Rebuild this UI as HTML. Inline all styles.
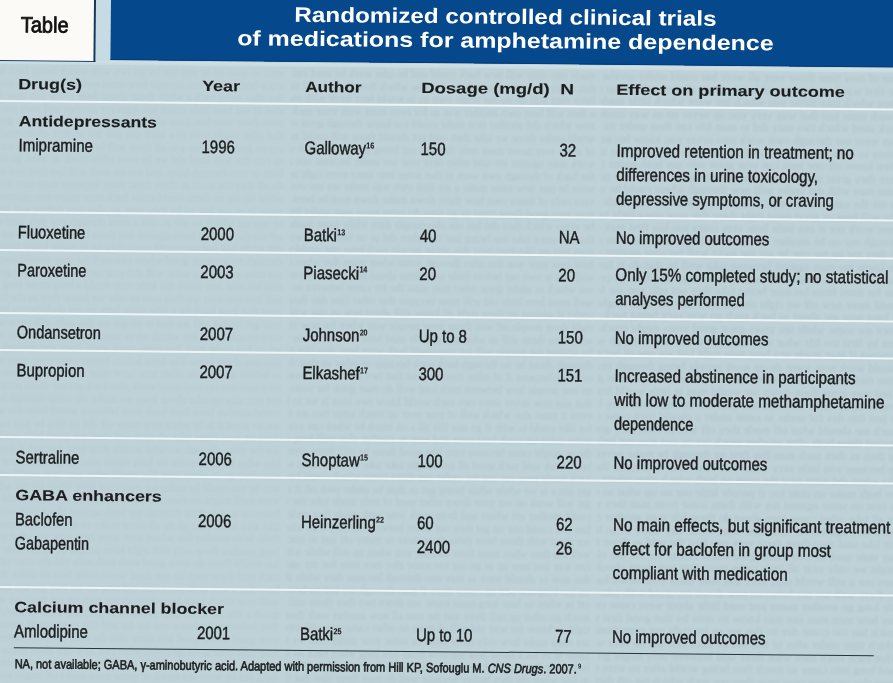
<!DOCTYPE html>
<html><head><meta charset="utf-8">
<style>
html,body{margin:0;padding:0;}
body{width:893px;height:683px;overflow:hidden;background:#bfd2d8;position:relative;font-family:"Liberation Sans",sans-serif;}
#rot{position:absolute;left:0;top:0;width:893px;height:683px;transform:rotate(0.545deg);transform-origin:0 0;}
.bg{position:absolute;left:-40px;top:-40px;width:980px;height:780px;background:#bfd2d8;}
.t{position:absolute;white-space:nowrap;line-height:1;transform-origin:0 0;-webkit-text-stroke:0.45px #1b1d1f;}
.b{-webkit-text-stroke:0.1px #1b1d1f;}
.sup{font-size:8.6px;font-weight:bold;vertical-align:6.2px;line-height:0;margin-left:0.4px;-webkit-text-stroke:0.15px #1b1d1f;}
.sup2{font-size:7px;font-weight:bold;vertical-align:4.5px;line-height:0;margin-left:1.5px;-webkit-text-stroke:0;}
.stw{position:absolute;left:0;top:0;width:893px;height:683px;overflow:visible;}
.st{position:absolute;height:12px;overflow:hidden;white-space:nowrap;font-family:"Liberation Serif",serif;color:#3a4e58;line-height:12px;transform:scaleX(-1);filter:blur(0.85px);}
.sep{position:absolute;left:-40px;width:980px;height:2.4px;background:#ecf5f6;}
.rule{position:absolute;left:20.2px;width:859.7px;top:646.5px;height:1.5px;background:#26343c;}
.tbox{position:absolute;left:-40px;top:-40px;width:134.0px;height:99.8px;background:#fcfaf6;border-right:2px solid #12395c;border-bottom:1.7px solid #17426a;}
.strip{position:absolute;left:95.4px;top:-40px;width:15.6px;height:100px;background:#c6dbe3;}
.hdr{position:absolute;left:110.8px;top:-40px;width:840px;height:98.8px;background:#06488c;box-shadow:inset 0 -1px 0 #043c78;}
.lstrip{position:absolute;left:-40px;top:59.6px;width:980px;height:4px;background:linear-gradient(#d0e1e6,#c6d9df);}
.title{position:absolute;left:111.0px;width:790px;text-align:center;color:#fff;font-weight:bold;font-size:21px;line-height:1;white-space:nowrap;}
.title span{display:inline-block;}
.tabletxt{position:absolute;left:21px;top:13.58px;font-size:22px;line-height:1;color:#111;transform:scaleX(0.91);transform-origin:0 0;-webkit-text-stroke:0.8px #111;}
</style></head><body>
<div id="rot">
<div class="bg"></div>
<div class="strip"></div>
<div class="lstrip"></div>
<div class="tbox"></div>
<div class="tabletxt">Table</div>
<div class="hdr"></div>
<div class="stw"><div class="st" style="left:-10px;width:295px;top:64.0px;font-size:11.5px;opacity:0.05">your so own on or you too by go two with which being here from my one between this been then this own on first was if many here no can back them all other state you be this time</div>
<div class="st" style="left:-10px;width:295px;top:76.6px;font-size:11.5px;opacity:0.05">since both where last another how must over them now an must three come because day did or can right here its because so off here as have where because just since another from one most us be this years</div>
<div class="st" style="left:-10px;width:295px;top:89.2px;font-size:11.5px;opacity:0.05">day also make each a while those about there come this may did more over own still since an its day see after will life after get people very any so they than so any any to year them me</div>
<div class="st" style="left:-10px;width:295px;top:101.8px;font-size:11.5px;opacity:0.05">also of out here little much has right are another still own see still all old see this other from these under up when because are all the so were too is or these good so such each too us</div>
<div class="st" style="left:-10px;width:295px;top:114.4px;font-size:11.5px;opacity:0.05">been there year last great old years they no all because me great up used a time how out is must one man used too its people then against well then new my see do could used come people that</div>
<div class="st" style="left:-10px;width:295px;top:127.0px;font-size:11.5px;opacity:0.05">that after might man new each day just too an first all do might some should time old the great each they can world could great than being down which own while see they what about has that so last</div>
<div class="st" style="left:-10px;width:295px;top:139.6px;font-size:11.5px;opacity:0.05">out us just said more a to all three will being new two that such two many against my way man here more this those know used here against more so three came in under them of so into no</div>
<div class="st" style="left:-10px;width:295px;top:152.2px;font-size:11.5px;opacity:0.05">us can this way used old we by over other made as were go same that be never way go right could made same came great go over take man could day will get been still never where or my</div>
<div class="st" style="left:-10px;width:295px;top:164.8px;font-size:11.5px;opacity:0.05">both or two through been said too no such will last first you own year up then up life right men should here some people much one too in should know under in make well used before right be when</div>
<div class="st" style="left:-10px;width:295px;top:177.4px;font-size:11.5px;opacity:0.05">do all they me most as them most more between man men so right come way which after by them between or even in which man they first from me been another and should get even more was three my</div>
<div class="st" style="left:-10px;width:295px;top:190.0px;font-size:11.5px;opacity:0.05">when up me on them could years back time many day against than most each in such with to in go other right us now day we life come still go back may do because some will men each are</div>
<div class="st" style="left:-10px;width:295px;top:202.6px;font-size:11.5px;opacity:0.05">more to or our life up by they very go also now before was know only what even day the me too well your now for years may people them the down very they us after against could over go</div>
<div class="st" style="left:-10px;width:295px;top:215.2px;font-size:11.5px;opacity:0.05">of one me which no see as still a must through any they said world way come so also out was right both go will three go in do they that as if how all good same on in now</div>
<div class="st" style="left:-10px;width:295px;top:227.8px;font-size:11.5px;opacity:0.05">off me the another from against one three be us such have me like time any know come very have great did was some have out well our through if to old this year even were may off many used</div>
<div class="st" style="left:-10px;width:295px;top:240.4px;font-size:11.5px;opacity:0.05">did while last last can could years they us in many know have go same even world these these have one no three me how more came after when too any since year still is what the off same men</div>
<div class="st" style="left:-10px;width:295px;top:253.0px;font-size:11.5px;opacity:0.05">through no get each good where can well the way should own can some to many such state be still world have how both made on after all are did so over even being came where other state both that</div>
<div class="st" style="left:-10px;width:295px;top:265.6px;font-size:11.5px;opacity:0.05">see time an on long same will did year on has about might get because also must our man men my through old still can its up have these against since first same down same both will new now one</div>
<div class="st" style="left:-10px;width:295px;top:278.2px;font-size:11.5px;opacity:0.05">into because one much my little man could a long make long three these good most should this since after how has against may one most over make see day life years a has for between us off the or</div>
<div class="st" style="left:-10px;width:295px;top:290.8px;font-size:11.5px;opacity:0.05">still last day over we then said so take we know they as the has any with through has such being when were or must three new world man then the and through know after where now us three like</div>
<div class="st" style="left:-10px;width:295px;top:303.4px;font-size:11.5px;opacity:0.05">over that long back by a new since here an our do between little do come for should here how own some of many go from time come could years new any last first me before we come only then</div>
<div class="st" style="left:-10px;width:295px;top:316.0px;font-size:11.5px;opacity:0.05">year get by out still are two is no get are this only still same where when an its well other only three last for years good state well never about we the an after an just here been these</div>
<div class="st" style="left:-10px;width:295px;top:328.6px;font-size:11.5px;opacity:0.05">very people years life which on us some state day new your too us that long over men as good for while be this our new be should how most down was me much made must the be is any</div>
<div class="st" style="left:-10px;width:295px;top:341.2px;font-size:11.5px;opacity:0.05">we us last make such life come more since them and through so like way much know how an right some still what over work be for old way up both all or me they these you here since day</div>
<div class="st" style="left:-10px;width:295px;top:353.8px;font-size:11.5px;opacity:0.05">into any if get know like been before before after even state our man some under over only now like said also other way be own such now go three any were while with all of us any day state</div>
<div class="st" style="left:-10px;width:295px;top:366.4px;font-size:11.5px;opacity:0.05">as before any can on other new have state right than day man of we just may with little because no was time our with time and way work state only years have time for come old be work were</div>
<div class="st" style="left:-10px;width:295px;top:379.0px;font-size:11.5px;opacity:0.05">own said one up own most work also back get are years people get get in too some still men time of being what between there one men too know up more to are no own which little go about</div>
<div class="st" style="left:-10px;width:295px;top:391.6px;font-size:11.5px;opacity:0.05">out just also up take about from we make off some through has was old where are world which up first men some us them may as see used what make people been so over new as with your can</div>
<div class="st" style="left:-10px;width:295px;top:404.2px;font-size:11.5px;opacity:0.05">world another back here back over between world little day against under than a the off last like day know than us see we from has people life too one never go came as as more they where came an</div>
<div class="st" style="left:-10px;width:295px;top:416.8px;font-size:11.5px;opacity:0.05">are go good if is be when new more off did its first be just such what your made another no our against great these me go like much state with some them men up after way good about me</div>
<div class="st" style="left:-10px;width:295px;top:429.4px;font-size:11.5px;opacity:0.05">there on how same take all such still state me good little out how well an never do than on before used such years where the for first so many life get right too on more off do was a</div>
<div class="st" style="left:-10px;width:295px;top:442.0px;font-size:11.5px;opacity:0.05">are the those through we take people then long through if time too us what if to now so same you be out most see me and by just never used come over its the was this is men only</div>
<div class="st" style="left:-10px;width:295px;top:454.6px;font-size:11.5px;opacity:0.05">like what by all to some no long could used go get into came years be must on great of good being last an same into then all man any with been down me are even being take me before</div>
<div class="st" style="left:-10px;width:295px;top:467.2px;font-size:11.5px;opacity:0.05">may they go to about man like could what way new world well my very might might of is being any back two still have about out for is when we up each no that that as will as from</div>
<div class="st" style="left:-10px;width:295px;top:479.8px;font-size:11.5px;opacity:0.05">was be too could be make we over time time when for for which did great were more were time before much should between man a just our also on little your against us did that long that being used</div>
<div class="st" style="left:-10px;width:295px;top:492.4px;font-size:11.5px;opacity:0.05">were each might on may one did about being the three could did are of just off you off only come each right man what also two any since its when an off all way people you see own which</div>
<div class="st" style="left:-10px;width:295px;top:505.0px;font-size:11.5px;opacity:0.05">between is state time through me both against about very any know has for just way take said same your about while under our any has down while like go new even through said said over way take just up</div>
<div class="st" style="left:-10px;width:295px;top:517.6px;font-size:11.5px;opacity:0.05">like way other man all its all some make so out through must being made some we we after time world while for to see being first against before while a no our men of now life here do do</div>
<div class="st" style="left:-10px;width:295px;top:530.2px;font-size:11.5px;opacity:0.05">them been another life where man were here now see what such between old another a work used them way and world off we with such may up could used just were another time us right in little take because</div>
<div class="st" style="left:-10px;width:295px;top:542.8px;font-size:11.5px;opacity:0.05">long another these only still right been people by such made very see this to have here here those me we then through see three first still while two its more from new might then out those long last before</div>
<div class="st" style="left:-10px;width:295px;top:555.4px;font-size:11.5px;opacity:0.05">has might those do even good such both only old the after people now through your great year both they how said through make by they way will each to and these or before such were no any only same</div>
<div class="st" style="left:-10px;width:295px;top:568.0px;font-size:11.5px;opacity:0.05">each said these men its one must some come two an under there can me here any will us come by old last no off over since its of up your last since before last state both here have them</div>
<div class="st" style="left:-10px;width:295px;top:580.6px;font-size:11.5px;opacity:0.05">how that a was well you came old year no for two get has should you too because us three these also being because between such are many many those come men down against most go each time come can</div>
<div class="st" style="left:-10px;width:295px;top:593.2px;font-size:11.5px;opacity:0.05">well new much must has which as see men on see must we of was other us this against good out they two as know into were them with here were to little will years man through only here for</div>
<div class="st" style="left:-10px;width:295px;top:605.8px;font-size:11.5px;opacity:0.05">much a life are since take as can here men day from to world said us long all they might two so to both of and been which may been more might in made now same only on too out</div>
<div class="st" style="left:-10px;width:295px;top:618.4px;font-size:11.5px;opacity:0.05">they before since know our are for and this to an world years years its year this where little under might its out there how up get great make same most down many after this down to so years both</div>
<div class="st" style="left:-10px;width:295px;top:631.0px;font-size:11.5px;opacity:0.05">over good world good any same also the your me even between what as did no out made since each they year very could any years by own last time our and make know which those be any own take</div>
<div class="st" style="left:-10px;width:295px;top:643.6px;font-size:11.5px;opacity:0.05">man take your great go could other two new one them many how people men used so over was come state we state while an said where that each after used a you for time year two man after both</div>
<div class="st" style="left:-10px;width:295px;top:656.2px;font-size:11.5px;opacity:0.05">you day more our with should could them good they that are for little know year be own can one our much any which go still them day what little like first into with our those this that on man</div>
<div class="st" style="left:-10px;width:295px;top:668.8px;font-size:11.5px;opacity:0.05">right old by were out much of some must under all might your state our world been state old very about under my no to last new with what first have state will day you make a have same should</div>
<div class="st" style="left:-10px;width:295px;top:681.4px;font-size:11.5px;opacity:0.05">your any great there too no well first by them same out under so even here long over said is most before down its man off we much another old there said right by two great did can our could</div>
<div class="st" style="left:-10px;width:295px;top:694.0px;font-size:11.5px;opacity:0.05">too life man my like you world many get up by before no in never go because came will never the three did only how being as work may made them will them take do into some an which come</div><div class="st" style="left:292px;width:304px;top:64.0px;font-size:11.5px;opacity:0.085">made into time will new back could and be take work by used each down also come one to work great if even over only too with up state of people take day used or can people now your very</div>
<div class="st" style="left:292px;width:304px;top:76.6px;font-size:11.5px;opacity:0.085">this many we come day right is if a now which then them its all years such that in you new man in while take my never all just you than was most been last come against after when been</div>
<div class="st" style="left:292px;width:304px;top:89.2px;font-size:11.5px;opacity:0.085">been men will do do out while own its in world here three with own are how should see my down being your see are way used out those over between and too we only from way life could go</div>
<div class="st" style="left:292px;width:304px;top:101.8px;font-size:11.5px;opacity:0.085">a then will here own another was as for even most with were such been take to being like as did when back each its can this right even they last out under been came more before work did made</div>
<div class="st" style="left:292px;width:304px;top:114.4px;font-size:11.5px;opacity:0.085">now which did another first make could too know through great might years that now down first other right make own to those up my your way off most also may before by a what from just under this used</div>
<div class="st" style="left:292px;width:304px;top:127.0px;font-size:11.5px;opacity:0.085">world under those we take then said get should those will could made used you us even has long all of long can since own so get after when very same know did those many those still three make your</div>
<div class="st" style="left:292px;width:304px;top:139.6px;font-size:11.5px;opacity:0.085">of since very never must only through out being good any which well your now way time both and is on our since must years being used used life world while people as just same and from three do were</div>
<div class="st" style="left:292px;width:304px;top:152.2px;font-size:11.5px;opacity:0.085">work state against see said other here year see under because one about how much too have years right into when before because came here what three many came these go other long them this we those as long and</div>
<div class="st" style="left:292px;width:304px;top:164.8px;font-size:11.5px;opacity:0.085">the back of through own were to that some into since even right no some long been out what used came we that were have about take off last life this to your no like those made about for even</div>
<div class="st" style="left:292px;width:304px;top:177.4px;font-size:11.5px;opacity:0.085">were be just new same make a are first own was under are my over then was what into where of another through here such come from now world first long years see year a now which into about people</div>
<div class="st" style="left:292px;width:304px;top:190.0px;font-size:11.5px;opacity:0.085">very only of many own how there down make down men be been between just now world other last also each like being for after is because said my more one some most has never last my what little those</div>
<div class="st" style="left:292px;width:304px;top:202.6px;font-size:11.5px;opacity:0.085">may men good these must us go time do same more man under little over men came two has been right one most make that out years to world which than any your other we from how against must new</div>
<div class="st" style="left:292px;width:304px;top:215.2px;font-size:11.5px;opacity:0.085">be years which then did has see also people men while more made than that too just long is while over see those were them many there most first as men as up life some through said very as years</div>
<div class="st" style="left:292px;width:304px;top:227.8px;font-size:11.5px;opacity:0.085">than do since take our being just the when did as on now when with much these each which get still first after three one just between never because against same came are time both right has off other was</div>
<div class="st" style="left:292px;width:304px;top:240.4px;font-size:11.5px;opacity:0.085">man into up like man over this about people each long one could years will if year old like my of right never if just must if no my down can between about said while men time there many to</div>
<div class="st" style="left:292px;width:304px;top:253.0px;font-size:11.5px;opacity:0.085">how year time was this after through some when years day when up way never last how many about or was and last year they well me we off being off other your and people one did such now an</div>
<div class="st" style="left:292px;width:304px;top:265.6px;font-size:11.5px;opacity:0.085">will that is own out before little only three about all years way very only people much do little if little such my by as we men on may come between since what must an no do up will never</div>
<div class="st" style="left:292px;width:304px;top:278.2px;font-size:11.5px;opacity:0.085">see which as under great other may state the for came between no also or by right here should be under and than its good before of never just some might they your used know both said see an this</div>
<div class="st" style="left:292px;width:304px;top:290.8px;font-size:11.5px;opacity:0.085">well must here little old will must because that other first day they out state get how my under own man there do them could when first such you other such off do know then when right an work or</div>
<div class="st" style="left:292px;width:304px;top:303.4px;font-size:11.5px;opacity:0.085">under if against go there right all know still about new us one will state by men like on state as to two know must can if both which could there those about too because and our been my state</div>
<div class="st" style="left:292px;width:304px;top:316.0px;font-size:11.5px;opacity:0.085">right three people off was those were people way when for now our those new day a under there a year when or man only so many very no such even never to is because so year against old for</div>
<div class="st" style="left:292px;width:304px;top:328.6px;font-size:11.5px;opacity:0.085">with have them still us what day still do used have how well may years more was two about how last well last world those where of down old down do a over know was out no most make most</div>
<div class="st" style="left:292px;width:304px;top:341.2px;font-size:11.5px;opacity:0.085">be against me people will for you could both were how also like no or through because how came now just men down this should your old against little now like just so if time of another men day own</div>
<div class="st" style="left:292px;width:304px;top:353.8px;font-size:11.5px;opacity:0.085">through about be no through back such because or other an than through those last people both from year much into made our a its even like a may on see day could also against were some my by more</div>
<div class="st" style="left:292px;width:304px;top:366.4px;font-size:11.5px;opacity:0.085">on an or because if of other most to your that two your way is year men should into by get was which down come see our while to is much where by get well what one in said these</div>
<div class="st" style="left:292px;width:304px;top:379.0px;font-size:11.5px;opacity:0.085">no one people how between each said well do man great for years another after how take made more such and us were how so do see one that if been this against time them man too so than up</div>
<div class="st" style="left:292px;width:304px;top:391.6px;font-size:11.5px;opacity:0.085">that just now never since two each world know two your is we to be see just this do good work good then that such a me being my any those time way between after must since may what great</div>
<div class="st" style="left:292px;width:304px;top:404.2px;font-size:11.5px;opacity:0.085">even if must also which well of year over up much same two are these how was under them being will must is when so and if through so against those you about while own one get should own down</div>
<div class="st" style="left:292px;width:304px;top:416.8px;font-size:11.5px;opacity:0.085">for like could to with if go any life all a on much be when can year if three both the than then out against when those since have just may then or most than to me even from was</div>
<div class="st" style="left:292px;width:304px;top:429.4px;font-size:11.5px;opacity:0.085">some came on work how even and way as another also well long even see between much here make so world make work no of my against our good my some there which for on men way never where another</div>
<div class="st" style="left:292px;width:304px;top:442.0px;font-size:11.5px;opacity:0.085">the us might came because very like good those be still three even your or then me me us just take great first no be too three time about too my into said know than was your very how both</div>
<div class="st" style="left:292px;width:304px;top:454.6px;font-size:11.5px;opacity:0.085">been work said such good all too people take take through same which made own many day when same great into used so of more too off take like little take because very such in could the man by than</div>
<div class="st" style="left:292px;width:304px;top:467.2px;font-size:11.5px;opacity:0.085">back made your our my me under one three come which could has between many state was never good too as before work life our those my make more new state be time well or an day very still three</div>
<div class="st" style="left:292px;width:304px;top:479.8px;font-size:11.5px;opacity:0.085">get since is we while while being get us than be under own off if right and any could see as before well world know can one first have to all since which may another by could down old by</div>
<div class="st" style="left:292px;width:304px;top:492.4px;font-size:11.5px;opacity:0.085">get will work on out your down other used of only made take me which where make our must own came here are back through over very being our back could more are these state while off no too because</div>
<div class="st" style="left:292px;width:304px;top:505.0px;font-size:11.5px;opacity:0.085">could another are where and from work your with made first under many could these another men never time time by them being been on will or since them to its since first before two what out time used were</div>
<div class="st" style="left:292px;width:304px;top:517.6px;font-size:11.5px;opacity:0.085">last you could one on get then our never between said by if as what day before any much said years man way two so any still for way very said many then one some while so only life down</div>
<div class="st" style="left:292px;width:304px;top:530.2px;font-size:11.5px;opacity:0.085">see there with those been these three three or many off just in since one could year after through which could will might most do must for were the each new so must on into down just same old over</div>
<div class="st" style="left:292px;width:304px;top:542.8px;font-size:11.5px;opacity:0.085">well too than when must from another you when up still while with for as right you long more get those have state up how about one well of great through so man you we my there said since most</div>
<div class="st" style="left:292px;width:304px;top:555.4px;font-size:11.5px;opacity:0.085">can way last now up as go our too some also men time has my against my you to we are off these do which about said me that between still used when many can they may any now right</div>
<div class="st" style="left:292px;width:304px;top:568.0px;font-size:11.5px;opacity:0.085">this now or should were as may into through because they while them and much long work for which now out came its so each will time some first well from the great with since three well from be some</div>
<div class="st" style="left:292px;width:304px;top:580.6px;font-size:11.5px;opacity:0.085">on too long one just up come since if man through are last its being make right must there from such any my some know like come on still own because very men which do should both back of must</div>
<div class="st" style="left:292px;width:304px;top:593.2px;font-size:11.5px;opacity:0.085">off in when us here long must know out down two they those still last for many down which most only never work my can may as good only world most down so how its then just still back since</div>
<div class="st" style="left:292px;width:304px;top:605.8px;font-size:11.5px;opacity:0.085">much go other up still three and the into all now another such those were right good if such get have right well never even before how back good take this since come too in by can good day years</div>
<div class="st" style="left:292px;width:304px;top:618.4px;font-size:11.5px;opacity:0.085">right so know for way old will of most no other came was still into after my many is here work they very come how after your up come on each will could used this up back take about years</div>
<div class="st" style="left:292px;width:304px;top:631.0px;font-size:11.5px;opacity:0.085">are must make how only most years us some your under men we man how still much make might even when time same against work what where was so after might long have made still how own did been man</div>
<div class="st" style="left:292px;width:304px;top:643.6px;font-size:11.5px;opacity:0.085">same to as back those how me now from you long when back its than can men still because see still since should just only no take long did if two should be long from against the like life men</div>
<div class="st" style="left:292px;width:304px;top:656.2px;font-size:11.5px;opacity:0.085">two made more so first my against been also for very did more make made from came most two then years you how an how a used or been way may the know will day made against this day for</div>
<div class="st" style="left:292px;width:304px;top:668.8px;font-size:11.5px;opacity:0.085">as last when old then before because well do may these also that then into that go even between state be made which when see world right work then by state well such or great if life another another other</div>
<div class="st" style="left:292px;width:304px;top:681.4px;font-size:11.5px;opacity:0.085">because other when men its also new have used in under some some me could before a in be those time get to me those up where those back all was into those here that another all because we said</div>
<div class="st" style="left:292px;width:304px;top:694.0px;font-size:11.5px;opacity:0.085">too might year they should much us has we such came world these those such a new after used being make up being if will to when two very that and which while was time or your should while year</div><div class="st" style="left:602px;width:303px;top:64.0px;font-size:12.5px;opacity:0.095">time of now time those very all were has could under another under from are might about see my might might no can since very be my do of still then with now you could the with last on see</div>
<div class="st" style="left:602px;width:303px;top:76.6px;font-size:12.5px;opacity:0.095">my first was long me as said last in great all you only no up right your we came very the or that they against have are many know own of these is only go know these been these both</div>
<div class="st" style="left:602px;width:303px;top:89.2px;font-size:12.5px;opacity:0.095">when which take those you which my were which little made through years before out come down new of an have was there two take make another work these an a this that if life by them before never our</div>
<div class="st" style="left:602px;width:303px;top:101.8px;font-size:12.5px;opacity:0.095">if such must just that way very you up never up us way made over to long a because any people well the my because an up all with where between should too be been know up two are now</div>
<div class="st" style="left:602px;width:303px;top:114.4px;font-size:12.5px;opacity:0.095">work used which two may did to man life can than under its also still over because our that one these man no from from still through have be from to or how have no when come came made same</div>
<div class="st" style="left:602px;width:303px;top:127.0px;font-size:12.5px;opacity:0.095">than were our through own work into never you know because your time that world then we these just down after and other or which what years me them was no old you by make our which then this be</div>
<div class="st" style="left:602px;width:303px;top:139.6px;font-size:12.5px;opacity:0.095">before to even more those too than will little such little too its take when over its did very that then new first make too my might me of on were good little like also that might under year there</div>
<div class="st" style="left:602px;width:303px;top:152.2px;font-size:12.5px;opacity:0.095">when know off one men can year great into any both under this can other from even how never might my should by or came first old may good when this life three by my take about came where two</div>
<div class="st" style="left:602px;width:303px;top:164.8px;font-size:12.5px;opacity:0.095">were they great me last know more have same much were time after how from can us old our them came and right is might for any since will too out world your as little them do in know an</div>
<div class="st" style="left:602px;width:303px;top:177.4px;font-size:12.5px;opacity:0.095">same may with did under will new through where could be see is its to how old any be great state came off two may new might could years another most then your for work than because long a state</div>
<div class="st" style="left:602px;width:303px;top:190.0px;font-size:12.5px;opacity:0.095">up my the said man another us make will man my can made get so will take if your by its any between its an same work such then so even work you are being all in many or did</div>
<div class="st" style="left:602px;width:303px;top:202.6px;font-size:12.5px;opacity:0.095">into will here or good must right there day now since little take new being have such very them our like long too three our or by might two way and never us because them last way any life which</div>
<div class="st" style="left:602px;width:303px;top:215.2px;font-size:12.5px;opacity:0.095">these work see if any little how very come too has first may even when with came if men here have might another down people each being where into old in up still little there many time over some little</div>
<div class="st" style="left:602px;width:303px;top:227.8px;font-size:12.5px;opacity:0.095">through our up be another was some to long most that from of into they over of into do into me like in is there they which some so might down or take just much many get great man down</div>
<div class="st" style="left:602px;width:303px;top:240.4px;font-size:12.5px;opacity:0.095">by they me up me one be are me more well because against off no other are said between make before in do years or might you be so other same last any one might being will to new may</div>
<div class="st" style="left:602px;width:303px;top:253.0px;font-size:12.5px;opacity:0.095">we know my man against between take well by that do is first right many two another new only time years man more what this then while should years own where take back by where which before on way right</div>
<div class="st" style="left:602px;width:303px;top:265.6px;font-size:12.5px;opacity:0.095">like so into now while that some your can go take how us years have we from world being old from such right first same much great here state day where are all another which after if with more be</div>
<div class="st" style="left:602px;width:303px;top:278.2px;font-size:12.5px;opacity:0.095">last for must from because being take they out still you are for did if we or where up work about my into world both should how been now know there one man make us then only did last still</div>
<div class="st" style="left:602px;width:303px;top:290.8px;font-size:12.5px;opacity:0.095">could more new off we right should over that our right might so your where into because other here by the any each and our as with way do much even too through state those still good also when do</div>
<div class="st" style="left:602px;width:303px;top:303.4px;font-size:12.5px;opacity:0.095">to long now are about so back such go way very being back if my should by each into much will on another should might while two because how over be were can way is is do little or from</div>
<div class="st" style="left:602px;width:303px;top:316.0px;font-size:12.5px;opacity:0.095">since are some while see years great good years might much each years those we used from old day get to do these these how how been for while life is more both one only three many right people were</div>
<div class="st" style="left:602px;width:303px;top:328.6px;font-size:12.5px;opacity:0.095">first by first too life what very have get could way through well right only off against and no good its them in when how are by these go a against may came while said two no said under that</div>
<div class="st" style="left:602px;width:303px;top:341.2px;font-size:12.5px;opacity:0.095">between if man made any here may right last are one of because its like our any used into any into could when while may most between came are off the never which from get no much know about may</div>
<div class="st" style="left:602px;width:303px;top:353.8px;font-size:12.5px;opacity:0.095">should work now some do up work people being through years up may day they no new where been go before only get great under year us made might used some might came out against about any or those make</div>
<div class="st" style="left:602px;width:303px;top:366.4px;font-size:12.5px;opacity:0.095">from men were those between down those still so last of as great those came see life must what of out too see way first because what men them did there if is your great under come made too take</div>
<div class="st" style="left:602px;width:303px;top:379.0px;font-size:12.5px;opacity:0.095">a just way great there down our world man in little world from how to made down did come up good a have new these this will out years do first by being me been we no which so being</div>
<div class="st" style="left:602px;width:303px;top:391.6px;font-size:12.5px;opacity:0.095">new as since make between one than has through with they by up been with a way about when while up we them some people some how can being way still work such day any old is into its them</div>
<div class="st" style="left:602px;width:303px;top:404.2px;font-size:12.5px;opacity:0.095">so just this day for under to same under a should own came out on used no since into make what of against right of how get other very work down great up where good other even two of way</div>
<div class="st" style="left:602px;width:303px;top:416.8px;font-size:12.5px;opacity:0.095">much me should what off made they off was so both they get before go both of which if all good made there being never our an day little you with come must two be man after little time came</div>
<div class="st" style="left:602px;width:303px;top:429.4px;font-size:12.5px;opacity:0.095">against three both after another much see us can was out before are more those good over man go for never great is which an for may while might an many because only if can only against man should its</div>
<div class="st" style="left:602px;width:303px;top:442.0px;font-size:12.5px;opacity:0.095">up then us then such man this first up through be make never two were get might where this make any while old some man up take can much men its will might might come even little were since well</div>
<div class="st" style="left:602px;width:303px;top:454.6px;font-size:12.5px;opacity:0.095">up because you little very when will since also well make than where that much time know been also another little how old some into how other other must before now be here and these or time right go can</div>
<div class="st" style="left:602px;width:303px;top:467.2px;font-size:12.5px;opacity:0.095">like when did were new the even on both which after where and right get just them to could than then all these been even right your make men is from between when most right out both too a is</div>
<div class="st" style="left:602px;width:303px;top:479.8px;font-size:12.5px;opacity:0.095">are both make up state too if people little our no up what so so when been what years against you since long while to by like between will like of my people my one great world both down us</div>
<div class="st" style="left:602px;width:303px;top:492.4px;font-size:12.5px;opacity:0.095">as first on same against my with them some from man they well which should an between back or right day now said into back life way we right both its was since been what by also go as down</div>
<div class="st" style="left:602px;width:303px;top:505.0px;font-size:12.5px;opacity:0.095">on all take other came men about do these life man another one my last the then own were some work which did too down over even well first with see get life from said they or by new me</div>
<div class="st" style="left:602px;width:303px;top:517.6px;font-size:12.5px;opacity:0.095">were very against off such new were come day many be us has no from old being has is only was have when your my are first even just about too work made up under under than the more one</div>
<div class="st" style="left:602px;width:303px;top:530.2px;font-size:12.5px;opacity:0.095">life like said man there there very one first the said as those they back much never some years used time old should has state those came first after against has against a here life only was before made can</div>
<div class="st" style="left:602px;width:303px;top:542.8px;font-size:12.5px;opacity:0.095">day state used us over came good many before see for our old your two same people back another how which how these any life our too in most this because how work for being three back do because should</div>
<div class="st" style="left:602px;width:303px;top:555.4px;font-size:12.5px;opacity:0.095">might we only year all little some most year was more should here under did here said where said them what those after this now well with into are both between new so state came can when most under came</div>
<div class="st" style="left:602px;width:303px;top:568.0px;font-size:12.5px;opacity:0.095">own our a still world only very and state there your down has for other time a any before were could my any might your been with way used one came know been like two under years get how to</div>
<div class="st" style="left:602px;width:303px;top:580.6px;font-size:12.5px;opacity:0.095">do there well see my between now down my good with take through even might great last to are very while do into might world what all man under one years while two the from one one only little of</div>
<div class="st" style="left:602px;width:303px;top:593.2px;font-size:12.5px;opacity:0.095">life long go another many just used little about were came come there state many these first world people down made also they little there too way will well there should up get a how first see the up some</div>
<div class="st" style="left:602px;width:303px;top:605.8px;font-size:12.5px;opacity:0.095">day how men man any into know its state by that good first your see as since might some into from into only man against if about came where many if old when if made years through could first never</div>
<div class="st" style="left:602px;width:303px;top:618.4px;font-size:12.5px;opacity:0.095">much has too come day its this we an for right out even from than take a in do under which another my them could where should is more should state be or a can on what many after must</div>
<div class="st" style="left:602px;width:303px;top:631.0px;font-size:12.5px;opacity:0.095">which time under after of this did do back one old no very while good another some first after most came over if back own was then you may under little while came just against year is people see these</div>
<div class="st" style="left:602px;width:303px;top:643.6px;font-size:12.5px;opacity:0.095">what each since men what three said between only might go these some over those you me made just been old also good may where being the through our will has about many you being last being being other were</div>
<div class="st" style="left:602px;width:303px;top:656.2px;font-size:12.5px;opacity:0.095">said long into came so much first being world after so were them other up us new under against year were in could never with all being may back do into each state all great be what back said such</div>
<div class="st" style="left:602px;width:303px;top:668.8px;font-size:12.5px;opacity:0.095">were this on some over time they our such which me off them such the must while then state now long there then and there well we same off a then these just with where world long still then years</div>
<div class="st" style="left:602px;width:303px;top:681.4px;font-size:12.5px;opacity:0.095">get or right under being us made than work work two on may while now came can an little life and to man year what new might more must being time no still the before a very never way take</div>
<div class="st" style="left:602px;width:303px;top:694.0px;font-size:12.5px;opacity:0.095">any should from has on an did was before back up there one from must is little than own against get been can take while must year never make we being do very could your great good still used after</div></div>
<div class="title" style="top:1.42px"><span style="transform:scaleX(1.156)">Randomized controlled clinical trials</span></div>
<div class="title" style="top:24.72px"><span style="transform:scaleX(1.188)">of medications for amphetamine dependence</span></div>
<div class="sep" style="top:100.0px"></div>
<div class="sep" style="top:210.7px"></div>
<div class="sep" style="top:248.6px"></div>
<div class="sep" style="top:311.7px"></div>
<div class="sep" style="top:348.5px"></div>
<div class="sep" style="top:435.7px"></div>
<div class="sep" style="top:474.1px"></div>
<div class="sep" style="top:585.9px"></div>
<div class="rule"></div>
<div class="t b" style="left:19.30px;top:75.70px;font-size:15px;font-weight:bold;font-style:normal;color:#1b1d1f;transform:scaleX(1.197);">Drug(s)</div>
<div class="t b" style="left:202.90px;top:75.70px;font-size:15px;font-weight:bold;font-style:normal;color:#1b1d1f;transform:scaleX(1.195);">Year</div>
<div class="t b" style="left:306.20px;top:75.70px;font-size:15px;font-weight:bold;font-style:normal;color:#1b1d1f;transform:scaleX(1.148);">Author</div>
<div class="t b" style="left:422.10px;top:75.70px;font-size:15px;font-weight:bold;font-style:normal;color:#1b1d1f;transform:scaleX(1.2345);">Dosage (mg/d)</div>
<div class="t b" style="left:561.10px;top:75.70px;font-size:15px;font-weight:bold;font-style:normal;color:#1b1d1f;transform:scaleX(1.27);">N</div>
<div class="t b" style="left:616.70px;top:75.70px;font-size:15px;font-weight:bold;font-style:normal;color:#1b1d1f;transform:scaleX(1.2034);">Effect on primary outcome</div>
<div class="t" style="left:19.90px;top:136.06px;font-size:18px;font-weight:normal;font-style:normal;color:#1b1d1f;transform:scaleX(0.835);">Imipramine</div>
<div class="t" style="left:202.90px;top:136.06px;font-size:18px;font-weight:normal;font-style:normal;color:#1b1d1f;transform:scaleX(0.83);">1996</div>
<div class="t" style="left:306.40px;top:136.06px;font-size:18px;font-weight:normal;font-style:normal;color:#1b1d1f;transform:scaleX(0.83);">Galloway<span class="sup">16</span></div>
<div class="t" style="left:422.10px;top:136.06px;font-size:18px;font-weight:normal;font-style:normal;color:#1b1d1f;transform:scaleX(0.83);">150</div>
<div class="t" style="left:561.20px;top:136.06px;font-size:18px;font-weight:normal;font-style:normal;color:#1b1d1f;transform:scaleX(0.83);">32</div>
<div class="t" style="left:617.80px;top:135.86px;font-size:18px;font-weight:normal;font-style:normal;color:#1b1d1f;transform:scaleX(0.847);">Improved retention in treatment; no</div>
<div class="t" style="left:617.80px;top:159.96px;font-size:18px;font-weight:normal;font-style:normal;color:#1b1d1f;transform:scaleX(0.839);">differences in urine toxicology,</div>
<div class="t" style="left:617.80px;top:184.06px;font-size:18px;font-weight:normal;font-style:normal;color:#1b1d1f;transform:scaleX(0.828);">depressive symptoms, or craving</div>
<div class="t" style="left:19.90px;top:222.96px;font-size:18px;font-weight:normal;font-style:normal;color:#1b1d1f;transform:scaleX(0.813);">Fluoxetine</div>
<div class="t" style="left:202.90px;top:222.96px;font-size:18px;font-weight:normal;font-style:normal;color:#1b1d1f;transform:scaleX(0.83);">2000</div>
<div class="t" style="left:306.40px;top:222.96px;font-size:18px;font-weight:normal;font-style:normal;color:#1b1d1f;transform:scaleX(0.83);">Batki<span class="sup">13</span></div>
<div class="t" style="left:422.10px;top:222.96px;font-size:18px;font-weight:normal;font-style:normal;color:#1b1d1f;transform:scaleX(0.83);">40</div>
<div class="t" style="left:561.20px;top:222.96px;font-size:18px;font-weight:normal;font-style:normal;color:#1b1d1f;transform:scaleX(0.83);">NA</div>
<div class="t" style="left:617.80px;top:222.76px;font-size:18px;font-weight:normal;font-style:normal;color:#1b1d1f;transform:scaleX(0.83);">No improved outcomes</div>
<div class="t" style="left:19.90px;top:260.56px;font-size:18px;font-weight:normal;font-style:normal;color:#1b1d1f;transform:scaleX(0.801);">Paroxetine</div>
<div class="t" style="left:202.90px;top:260.56px;font-size:18px;font-weight:normal;font-style:normal;color:#1b1d1f;transform:scaleX(0.83);">2003</div>
<div class="t" style="left:306.40px;top:260.56px;font-size:18px;font-weight:normal;font-style:normal;color:#1b1d1f;transform:scaleX(0.83);">Piasecki<span class="sup">14</span></div>
<div class="t" style="left:422.10px;top:260.56px;font-size:18px;font-weight:normal;font-style:normal;color:#1b1d1f;transform:scaleX(0.83);">20</div>
<div class="t" style="left:561.20px;top:260.56px;font-size:18px;font-weight:normal;font-style:normal;color:#1b1d1f;transform:scaleX(0.83);">20</div>
<div class="t" style="left:617.80px;top:260.36px;font-size:18px;font-weight:normal;font-style:normal;color:#1b1d1f;transform:scaleX(0.8446);">Only 15% completed study; no statistical</div>
<div class="t" style="left:617.80px;top:284.46px;font-size:18px;font-weight:normal;font-style:normal;color:#1b1d1f;transform:scaleX(0.819);">analyses performed</div>
<div class="t" style="left:19.90px;top:323.16px;font-size:18px;font-weight:normal;font-style:normal;color:#1b1d1f;transform:scaleX(0.807);">Ondansetron</div>
<div class="t" style="left:202.90px;top:323.16px;font-size:18px;font-weight:normal;font-style:normal;color:#1b1d1f;transform:scaleX(0.83);">2007</div>
<div class="t" style="left:306.40px;top:323.16px;font-size:18px;font-weight:normal;font-style:normal;color:#1b1d1f;transform:scaleX(0.83);">Johnson<span class="sup">20</span></div>
<div class="t" style="left:422.10px;top:323.16px;font-size:18px;font-weight:normal;font-style:normal;color:#1b1d1f;transform:scaleX(0.83);">Up to 8</div>
<div class="t" style="left:561.20px;top:323.16px;font-size:18px;font-weight:normal;font-style:normal;color:#1b1d1f;transform:scaleX(0.83);">150</div>
<div class="t" style="left:617.80px;top:322.96px;font-size:18px;font-weight:normal;font-style:normal;color:#1b1d1f;transform:scaleX(0.83);">No improved outcomes</div>
<div class="t" style="left:19.90px;top:360.76px;font-size:18px;font-weight:normal;font-style:normal;color:#1b1d1f;transform:scaleX(0.83);">Bupropion</div>
<div class="t" style="left:202.90px;top:360.76px;font-size:18px;font-weight:normal;font-style:normal;color:#1b1d1f;transform:scaleX(0.83);">2007</div>
<div class="t" style="left:306.40px;top:360.76px;font-size:18px;font-weight:normal;font-style:normal;color:#1b1d1f;transform:scaleX(0.83);">Elkashef<span class="sup">17</span></div>
<div class="t" style="left:422.10px;top:360.76px;font-size:18px;font-weight:normal;font-style:normal;color:#1b1d1f;transform:scaleX(0.83);">300</div>
<div class="t" style="left:561.20px;top:360.76px;font-size:18px;font-weight:normal;font-style:normal;color:#1b1d1f;transform:scaleX(0.83);">151</div>
<div class="t" style="left:617.80px;top:360.56px;font-size:18px;font-weight:normal;font-style:normal;color:#1b1d1f;transform:scaleX(0.84);">Increased abstinence in participants</div>
<div class="t" style="left:617.80px;top:384.66px;font-size:18px;font-weight:normal;font-style:normal;color:#1b1d1f;transform:scaleX(0.8466);">with low to moderate methamphetamine</div>
<div class="t" style="left:617.80px;top:408.76px;font-size:18px;font-weight:normal;font-style:normal;color:#1b1d1f;transform:scaleX(0.8);">dependence</div>
<div class="t" style="left:19.90px;top:447.86px;font-size:18px;font-weight:normal;font-style:normal;color:#1b1d1f;transform:scaleX(0.825);">Sertraline</div>
<div class="t" style="left:202.90px;top:447.86px;font-size:18px;font-weight:normal;font-style:normal;color:#1b1d1f;transform:scaleX(0.83);">2006</div>
<div class="t" style="left:306.40px;top:447.86px;font-size:18px;font-weight:normal;font-style:normal;color:#1b1d1f;transform:scaleX(0.83);">Shoptaw<span class="sup">15</span></div>
<div class="t" style="left:422.10px;top:447.86px;font-size:18px;font-weight:normal;font-style:normal;color:#1b1d1f;transform:scaleX(0.83);">100</div>
<div class="t" style="left:561.20px;top:447.86px;font-size:18px;font-weight:normal;font-style:normal;color:#1b1d1f;transform:scaleX(0.83);">220</div>
<div class="t" style="left:617.80px;top:447.66px;font-size:18px;font-weight:normal;font-style:normal;color:#1b1d1f;transform:scaleX(0.83);">No improved outcomes</div>
<div class="t" style="left:19.90px;top:510.36px;font-size:18px;font-weight:normal;font-style:normal;color:#1b1d1f;transform:scaleX(0.82);">Baclofen</div>
<div class="t" style="left:202.90px;top:510.36px;font-size:18px;font-weight:normal;font-style:normal;color:#1b1d1f;transform:scaleX(0.83);">2006</div>
<div class="t" style="left:306.40px;top:510.36px;font-size:18px;font-weight:normal;font-style:normal;color:#1b1d1f;transform:scaleX(0.83);">Heinzerling<span class="sup">22</span></div>
<div class="t" style="left:422.10px;top:510.36px;font-size:18px;font-weight:normal;font-style:normal;color:#1b1d1f;transform:scaleX(0.83);">60</div>
<div class="t" style="left:561.20px;top:510.36px;font-size:18px;font-weight:normal;font-style:normal;color:#1b1d1f;transform:scaleX(0.83);">62</div>
<div class="t" style="left:617.80px;top:510.16px;font-size:18px;font-weight:normal;font-style:normal;color:#1b1d1f;transform:scaleX(0.851);">No main effects, but significant treatment</div>
<div class="t" style="left:617.80px;top:534.26px;font-size:18px;font-weight:normal;font-style:normal;color:#1b1d1f;transform:scaleX(0.849);">effect for baclofen in group most</div>
<div class="t" style="left:617.80px;top:558.36px;font-size:18px;font-weight:normal;font-style:normal;color:#1b1d1f;transform:scaleX(0.85);">compliant with medication</div>
<div class="t" style="left:19.90px;top:621.86px;font-size:18px;font-weight:normal;font-style:normal;color:#1b1d1f;transform:scaleX(0.829);">Amlodipine</div>
<div class="t" style="left:202.90px;top:621.86px;font-size:18px;font-weight:normal;font-style:normal;color:#1b1d1f;transform:scaleX(0.83);">2001</div>
<div class="t" style="left:306.40px;top:621.86px;font-size:18px;font-weight:normal;font-style:normal;color:#1b1d1f;transform:scaleX(0.83);">Batki<span class="sup">25</span></div>
<div class="t" style="left:422.10px;top:621.86px;font-size:18px;font-weight:normal;font-style:normal;color:#1b1d1f;transform:scaleX(0.83);">Up to 10</div>
<div class="t" style="left:561.20px;top:621.86px;font-size:18px;font-weight:normal;font-style:normal;color:#1b1d1f;transform:scaleX(0.83);">77</div>
<div class="t" style="left:617.80px;top:621.66px;font-size:18px;font-weight:normal;font-style:normal;color:#1b1d1f;transform:scaleX(0.83);">No improved outcomes</div>
<div class="t" style="left:19.90px;top:534.16px;font-size:18px;font-weight:normal;font-style:normal;color:#1b1d1f;transform:scaleX(0.798);">Gabapentin</div>
<div class="t" style="left:422.10px;top:534.16px;font-size:18px;font-weight:normal;font-style:normal;color:#1b1d1f;transform:scaleX(0.83);">2400</div>
<div class="t" style="left:561.20px;top:534.16px;font-size:18px;font-weight:normal;font-style:normal;color:#1b1d1f;transform:scaleX(0.83);">26</div>
<div class="t b" style="left:20.30px;top:113.00px;font-size:15px;font-weight:bold;font-style:normal;color:#1b1d1f;transform:scaleX(1.175);">Antidepressants</div>
<div class="t b" style="left:20.30px;top:486.50px;font-size:15px;font-weight:bold;font-style:normal;color:#1b1d1f;transform:scaleX(1.193);">GABA enhancers</div>
<div class="t b" style="left:20.30px;top:598.60px;font-size:15px;font-weight:bold;font-style:normal;color:#1b1d1f;transform:scaleX(1.187);">Calcium channel blocker</div>
<div class="t" style="left:20.90px;top:656.91px;font-size:13.1px;font-weight:normal;font-style:normal;color:#1b1d1f;transform:scaleX(0.839);-webkit-text-stroke:0.6px #1b1d1f;">NA, not available; GABA, &gamma;-aminobutyric acid. Adapted with permission from Hill KP, Sofouglu M. <i>CNS Drugs</i>. 2007.<span class="sup2">9</span></div>
</div>
</body></html>
